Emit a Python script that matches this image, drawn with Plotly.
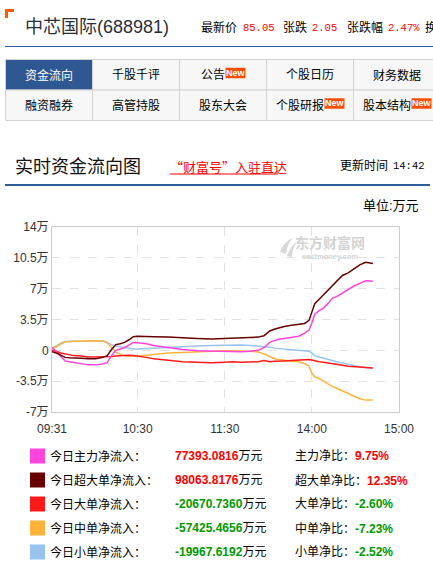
import plotly.graph_objects as go

W, H = 433, 565


def X(p):
    return p / W


def Y(p):
    return 1 - p / H


CJK = "Liberation Sans, Noto Sans CJK SC, sans-serif"
CJK_FIRST = "Noto Sans CJK SC, sans-serif"
MONO = "Liberation Mono, DejaVu Sans Mono, monospace"

# ---------------- data ----------------
stock_title = "中芯国际(688981)"
latest_price = "85.05"
change = "2.05"
change_pct = "2.47%"
update_time = "14:42"

# minutes since 09:31 (trading minutes, lunch break removed)
minutes = [0, 3, 6, 9, 12, 15, 20, 25, 30, 35, 38, 41, 44, 47, 50, 53, 56, 59, 65, 70,
           80, 90, 100, 110, 119, 125, 130, 137, 142, 146, 150, 153, 156, 160, 165,
           170, 174, 177, 179, 181, 184, 187, 190, 193, 196, 200, 204, 208, 212, 216, 221]

# values in 万 (×万元)
main_flow = [0.3, -0.1, -0.7, -1.2, -1.3, -1.4, -1.5, -1.65, -1.65, -1.55, -1.4, -0.6, 0.0,
             0.15, 0.3, 0.6, 0.9, 0.85, 0.75, 0.55, 0.3, 0.1, -0.05, -0.1, -0.1, -0.15,
             -0.15, -0.1, 0.0, 0.3, 0.9, 1.1, 1.25, 1.35, 1.5, 1.6, 1.95, 2.3, 3.1, 4.1,
             4.5, 4.8, 5.3, 5.9, 6.1, 6.5, 6.9, 7.3, 7.6, 7.9, 7.85]
super_flow = [-0.15, -0.3, -0.55, -0.8, -0.85, -0.85, -0.9, -0.95, -0.95, -0.8, -0.6, 0.1,
              0.65, 0.75, 0.9, 1.2, 1.55, 1.6, 1.6, 1.55, 1.5, 1.4, 1.35, 1.3, 1.35, 1.35,
              1.35, 1.4, 1.5, 1.65, 2.2, 2.4, 2.55, 2.7, 2.85, 2.95, 3.05, 3.4, 4.3, 5.3,
              5.8, 6.3, 6.8, 7.4, 7.8, 8.5, 8.8, 9.3, 9.7, 10.0, 9.85]
large_flow = [0.0, -0.1, -0.3, -0.4, -0.5, -0.6, -0.65, -0.75, -0.75, -0.75, -0.75, -0.7,
              -0.65, -0.6, -0.6, -0.57, -0.6, -0.65, -0.8, -0.95, -1.15, -1.3, -1.35, -1.4,
              -1.35, -1.3, -1.35, -1.35, -1.3, -1.15, -1.3, -1.25, -1.2, -1.2, -1.15, -1.1,
              -1.1, -1.05, -1.1, -1.2, -1.3, -1.35, -1.45, -1.55, -1.65, -1.7, -1.8, -1.85,
              -1.9, -1.95, -2.0]
medium_flow = [0.2, 0.4, 0.7, 0.95, 1.0, 1.0, 1.05, 1.1, 1.1, 1.05, 0.85, 0.35, -0.2, -0.45,
               -0.6, -0.65, -0.65, -0.65, -0.55, -0.45, -0.3, -0.25, -0.15, -0.1, -0.05,
               -0.05, -0.05, -0.1, -0.2, -0.4, -0.7, -0.95, -1.05, -1.15, -1.2, -1.3, -1.5,
               -1.8, -2.6, -3.0, -3.2, -3.5, -3.8, -4.1, -4.3, -4.6, -4.85, -5.2, -5.5,
               -5.65, -5.65]
small_flow = [0.3, 0.5, 0.8, 1.0, 1.0, 1.05, 1.05, 1.1, 1.1, 1.05, 0.9, 0.65, 0.5, 0.4, 0.3,
              0.2, 0.15, 0.15, 0.2, 0.3, 0.4, 0.45, 0.5, 0.55, 0.6, 0.6, 0.6, 0.55, 0.5,
              0.45, 0.35, 0.25, 0.2, 0.15, 0.1, 0.0, -0.05, -0.1, -0.3, -0.6, -0.75, -0.9,
              -1.05, -1.15, -1.3, -1.45, -1.6, -1.75, -1.85, -1.95, -2.0]

x_tick_vals = [0, 59, 119, 179, 239]
x_tick_text = ["09:31", "10:30", "11:30", "14:00", "15:00"]
y_tick_vals = [-7, -3.5, 0, 3.5, 7, 10.5, 14]
y_tick_text = ["-7万", "-3.5万", "0", "3.5万", "7万", "10.5万", "14万"]

series_names = ["今日主力净流入", "今日超大单净流入", "今日大单净流入", "今日中单净流入", "今日小单净流入"]
series_colors = ["#ff44dd", "#660000", "#ff1a1a", "#ffb33d", "#99c3ee"]
legend_labels = ["今日主力净流入：", "今日超大单净流入：", "今日大单净流入：", "今日中单净流入：", "今日小单净流入："]
legend_values = [77393.0816, 98063.8176, -20670.7360, -57425.4656, -19967.6192]
ratio_labels = ["主力净比：", "超大单净比：", "大单净比：", "中单净比：", "小单净比："]
ratio_values = [9.75, 12.35, -2.60, -7.23, -2.52]

tabs_row1 = ["资金流向", "千股千评", "公告", "个股日历", "财务数据"]
tabs_row2 = ["融资融券", "高管持股", "股东大会", "个股研报", "股本结构"]
badge_row1 = [False, False, True, False, False]
badge_row2 = [False, False, False, True, True]

# ---------------- figure ----------------
fig = go.Figure()
all_series = [main_flow, super_flow, large_flow, medium_flow, small_flow]
draw_order = [4, 3, 2, 0, 1]
for i in draw_order:
    fig.add_trace(go.Scatter(x=minutes, y=all_series[i], mode="lines", name=series_names[i],
                             line=dict(color=series_colors[i], width=1.5), showlegend=False))

shapes = []
ann = []


def text(x, y, s, size=12, color="#222", anchor="left", family=CJK):
    ann.append(dict(x=X(x), y=Y(y), xref="paper", yref="paper", text=s, showarrow=False,
                    xanchor=anchor, yanchor="middle", borderpad=0,
                    font=dict(size=size, color=color, family=family)))


def rect(x0, y0, x1, y1, fill, line=None, lw=1):
    shapes.append(dict(type="rect", xref="paper", yref="paper", x0=X(x0), x1=X(x1), y0=Y(y1), y1=Y(y0),
                       fillcolor=fill, line=dict(color=line or fill, width=lw if line else 0), layer="below"))


def hline(x0, x1, y, color, w):
    shapes.append(dict(type="line", xref="paper", yref="paper", x0=X(x0), x1=X(x1), y0=Y(y), y1=Y(y),
                       line=dict(color=color, width=w)))


# header
shapes.append(dict(type="path", xref="paper", yref="paper",
                   path="M %f %f L %f %f L %f %f" % (X(6.5), Y(18), X(6.5), Y(10.5), X(14), Y(10.5)),
                   line=dict(color="#ff5a00", width=3)))
text(24, 27, stock_title, size=18, color="#2a2f38")
text(200, 28, "最新价", 12, "#000")
text(241.5, 28, latest_price, 10.5, "#ff0000", family=MONO)
text(282, 28, "张跌", 12, "#000")
text(311, 28, change, 10.5, "#ff0000", family=MONO)
text(346, 28, "张跌幅", 12, "#000")
text(387, 28, change_pct, 10.5, "#ff0000", family=MONO)
text(424, 28, "换手率", 12, "#000")
hline(5, 433, 46.5, "#2f5b99", 1.2)

# tabs
col_w = 87
col_x0 = 5.5
row_edges = [(59.5, 90), (90, 120.5)]
for r, (row, badges) in enumerate([(tabs_row1, badge_row1), (tabs_row2, badge_row2)]):
    y0, y1 = row_edges[r]
    cy = (y0 + y1) / 2 + 0.5
    for c, (t, b) in enumerate(zip(row, badges)):
        x0 = col_x0 + c * col_w
        selected = (r == 0 and c == 0)
        rect(x0, y0, x0 + col_w, y1, "#2f5792" if selected else "#f7f7f7", "#d2d2d2", 1)
        cc = x0 + col_w / 2
        tw = 12 * len(t)
        if b:
            left = cc - (tw + 21) / 2
            text(left + tw / 2, cy, t, 12, "#000", anchor="center")
            bx = left + tw + 1
            rect(bx, cy - 7.5, bx + 20, cy + 3, "#ff4e00")
            text(bx + 10, cy - 2.3, "<b>New</b>", 9, "#ffffff", anchor="center",
                 family="Liberation Sans, sans-serif")
        else:
            text(cc, cy, t, 12, "#ffffff" if selected else "#000", anchor="center")

# section title
text(14, 167, "实时资金流向图", 18, "#111")
text(169, 167, "“财富号”入驻直达", 13, "#ff0000", family=CJK_FIRST)
hline(170, 278, 174, "#ff0000", 1)
text(339, 166, "更新时间", 12, "#000")
text(392, 166, update_time, 10.5, "#000", family=MONO)
hline(5, 430, 185, "#2f5b99", 2.2)
text(420, 205, "单位:万元", 13, "#000", anchor="right")

# watermark
text(330, 243, "<b>东方财富网</b>", 14, "#d4d4d4", anchor="center")
text(330, 256, "<b>eastmoney.com</b>", 7.5, "#d4d4d4", anchor="center", family="Liberation Sans, sans-serif")
logo_pts = [[(280, 252), (284, 241), (293, 238), (287, 244), (286, 254)],
            [(287, 256), (290, 246), (297, 242), (292, 249), (292, 257)]]
for pts in logo_pts:
    p = "M %f %f " % (X(pts[0][0]), Y(pts[0][1]))
    p += "Q %f %f %f %f " % (X(pts[1][0]), Y(pts[1][1]), X(pts[2][0]), Y(pts[2][1]))
    p += "Q %f %f %f %f Z" % (X(pts[3][0]), Y(pts[3][1]), X(pts[4][0]), Y(pts[4][1]))
    shapes.append(dict(type="path", xref="paper", yref="paper", path=p, fillcolor="#d8d8d8",
                       line=dict(width=0)))

# legend table
row_y = [456, 480, 504, 528, 552]
for i in range(5):
    yy = row_y[i]
    rect(30, yy - 7.5, 45, yy + 7.5, series_colors[i])
    text(49, yy, legend_labels[i], 12, "#000")
    vcol = "#ff0000" if legend_values[i] >= 0 else "#009900"
    text(174, yy, "<b><span style='color:%s'>%.4f</span></b>万元" % (vcol, legend_values[i]), 12, "#000")
    rcol = "#ff0000" if ratio_values[i] >= 0 else "#009900"
    text(294, yy, "%s<b><span style='color:%s'>%.2f%%</span></b>" % (ratio_labels[i], rcol, ratio_values[i]),
         12, "#000")

fig.update_layout(
    width=W, height=H, margin=dict(l=0, r=0, t=0, b=0, pad=0), autosize=False,
    paper_bgcolor="#ffffff", plot_bgcolor="#ffffff",
    shapes=shapes, annotations=ann, showlegend=False,
    xaxis=dict(domain=[X(52), X(399)], range=[0, 239], tickvals=x_tick_vals, ticktext=x_tick_text,
               showgrid=True, gridcolor="#e2e2e2", griddash="dash", gridwidth=1, automargin=False,
               showline=True, linecolor="#cccccc", linewidth=1, mirror=True, zeroline=False,
               ticks="outside", ticklen=6, tickcolor="rgba(0,0,0,0)",
               tickfont=dict(size=12, color="#333", family=CJK), fixedrange=True),
    yaxis=dict(domain=[1 - 412 / H, 1 - 227 / H], range=[-7, 14], tickvals=y_tick_vals,
               ticktext=y_tick_text, showgrid=True, gridcolor="#e2e2e2", griddash="dash",
               gridwidth=1, showline=True, linecolor="#cccccc", linewidth=1, mirror=True,
               automargin=False, zeroline=False, tickfont=dict(size=12, color="#333", family=CJK),
               fixedrange=True),
)

fig.write_html("out.html", config={"responsive": False, "displayModeBar": False},
               post_script="document.body.style.margin='0';document.body.style.overflow='hidden';")
